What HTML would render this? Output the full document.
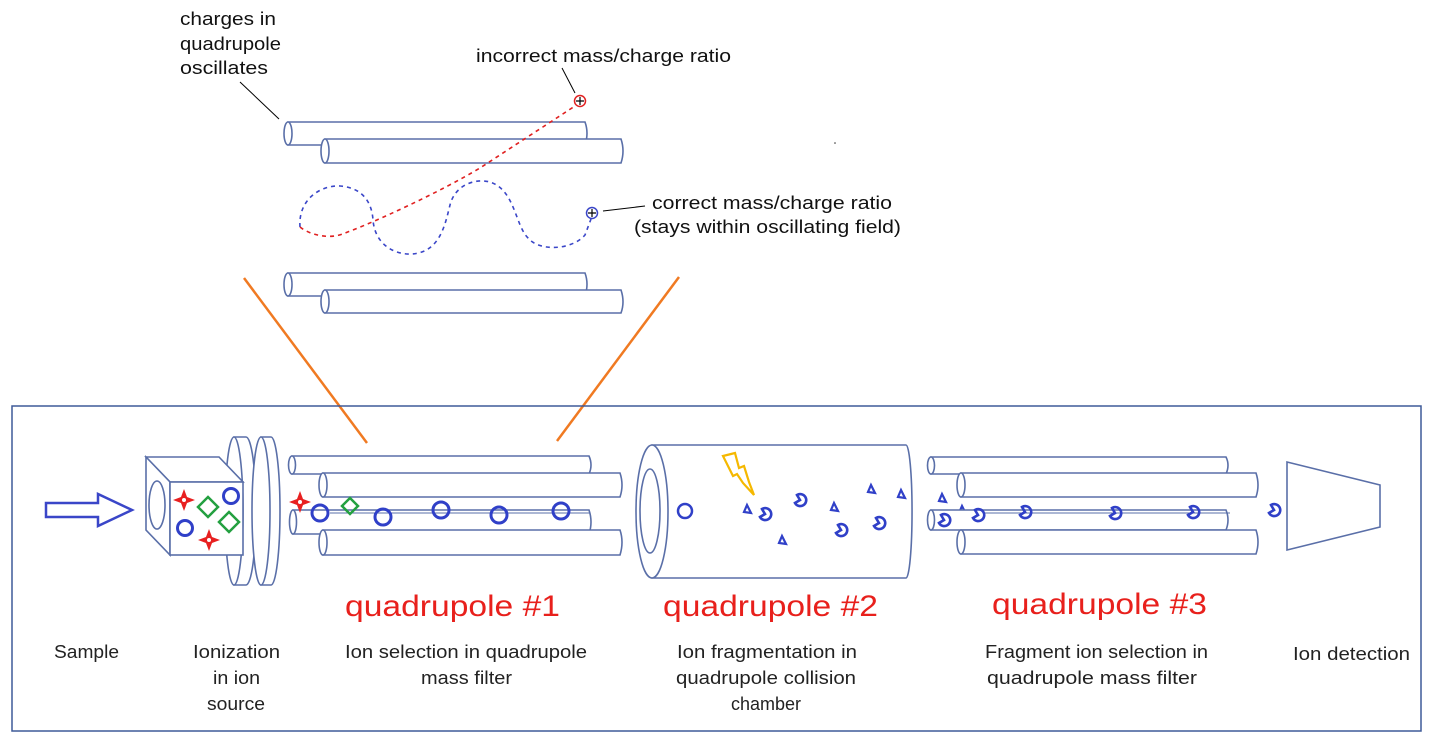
<!DOCTYPE html>
<html><head><meta charset="utf-8"><style>
html,body{margin:0;padding:0;background:#fff;width:1438px;height:748px;overflow:hidden}
svg{display:block}
text{font-family:"Liberation Sans",sans-serif}
.lbl{font-size:18px;fill:#222}
.tlbl{font-size:18.5px;fill:#111}
.red{font-size:30px;fill:#e8201c}
.rod{fill:#fff;stroke:#5a6fa8;stroke-width:1.6}
.ion{fill:none;stroke:#3040c8;stroke-width:3}
</style></head><body>
<svg width="1438" height="748" viewBox="0 0 1438 748" xmlns="http://www.w3.org/2000/svg">
<defs>
<g id="pac"><path d="M-3,-5 A6,6 0 1 1 -5,3 L0,0 Z" fill="none" stroke="#3040c8" stroke-width="2.6"/></g>
<g id="tri"><path d="M0,-4 L4,4 L-3,3 Z" fill="none" stroke="#3040c8" stroke-width="2.2"/></g>
</defs>

<text class="tlbl" x="180" y="25" textLength="96" lengthAdjust="spacingAndGlyphs">charges in</text>
<text class="tlbl" x="180" y="50" textLength="101" lengthAdjust="spacingAndGlyphs">quadrupole</text>
<text class="tlbl" x="180" y="74" textLength="88" lengthAdjust="spacingAndGlyphs">oscillates</text>
<line x1="240" y1="82" x2="279" y2="119" stroke="#000" stroke-width="1"/>
<text class="tlbl" x="476" y="62" textLength="255" lengthAdjust="spacingAndGlyphs">incorrect mass/charge ratio</text>
<line x1="562" y1="68" x2="575" y2="93" stroke="#000" stroke-width="1"/>
<text class="tlbl" x="652" y="209" textLength="240" lengthAdjust="spacingAndGlyphs">correct mass/charge ratio</text>
<text class="tlbl" x="634" y="233" textLength="267" lengthAdjust="spacingAndGlyphs">(stays within oscillating field)</text>
<line x1="603" y1="211" x2="645" y2="206" stroke="#000" stroke-width="1"/>

<g>
<path class="rod" d="M288,122 H585 Q589,133 585,145 H288 Z"/><ellipse class="rod" cx="288" cy="133.5" rx="4" ry="11.5"/>
<path class="rod" d="M325,139 H621 Q625,151 621,163 H325 Z"/><ellipse class="rod" cx="325" cy="151" rx="4" ry="12"/>
<path class="rod" d="M288,273 H585 Q589,284 585,296 H288 Z"/><ellipse class="rod" cx="288" cy="284.5" rx="4" ry="11.5"/>
<path class="rod" d="M325,290 H621 Q625,302 621,313 H325 Z"/><ellipse class="rod" cx="325" cy="301.5" rx="4" ry="11.5"/>
</g>
<path d="M300,227 C298,200 320,185 340,186 C365,188 372,205 373,220 C375,245 395,255 412,254 C440,252 445,225 450,205 C455,185 475,178 490,182 C515,190 515,225 528,238 C540,252 572,250 585,235 L591,219" fill="none" stroke="#3a46c8" stroke-width="1.6" stroke-dasharray="4,4"/>
<path d="M300,227 C310,235 330,240 345,233 C375,222 440,192 480,168 L575,106" fill="none" stroke="#e02020" stroke-width="1.6" stroke-dasharray="4,4"/>
<circle cx="580" cy="101" r="5.5" fill="#fff" stroke="#e02020" stroke-width="1.5"/>
<path d="M576,101 H584 M580,97 V105" stroke="#000" stroke-width="1.2"/>
<circle cx="592" cy="213" r="5.5" fill="#fff" stroke="#3a46c8" stroke-width="1.5"/>
<path d="M588,213 H596 M592,209 V217" stroke="#000" stroke-width="1.2"/>
<circle cx="835" cy="143" r="0.8" fill="#333"/>

<line x1="244" y1="278" x2="367" y2="443" stroke="#f07a22" stroke-width="2.5"/>
<line x1="679" y1="277" x2="557" y2="441" stroke="#f07a22" stroke-width="2.5"/>

<rect x="12" y="406" width="1409" height="325" fill="none" stroke="#3e5a98" stroke-width="1.5"/>

<path d="M46,503 H98 V494 L132,510 L98,526 V517 H46 Z" fill="#fff" stroke="#3a46c8" stroke-width="2.5"/>

<path class="rod" d="M234,437 H246 A10,74 0 0 1 246,585 H234 Z"/>
<ellipse class="rod" cx="234" cy="511" rx="9" ry="74"/>
<path class="rod" d="M261,437 H271 A9,74 0 0 1 271,585 H261 Z"/>
<ellipse class="rod" cx="261" cy="511" rx="9" ry="74"/>

<path class="rod" d="M146,457 H219 L243,482 H170 Z"/>
<path class="rod" d="M146,457 L170,482 V555 L146,530 Z"/>
<ellipse class="rod" cx="157" cy="505" rx="8" ry="24"/>
<rect class="rod" x="170" y="482" width="73" height="73"/>

<path class="rod" d="M292,456 H589 Q593,465 589,474 H292 Z"/><ellipse class="rod" cx="292" cy="465" rx="3.5" ry="9"/>
<path class="rod" d="M293,510 H589 Q593,522 589,534 H293 Z"/><ellipse class="rod" cx="293" cy="522" rx="3.5" ry="12"/>
<path class="rod" d="M323,473 H620 Q624,485 620,497 H323 Z"/><ellipse class="rod" cx="323" cy="485" rx="4" ry="12"/>
<path class="rod" d="M323,530 H620 Q624,542 620,555 H323 Z"/><ellipse class="rod" cx="323" cy="542.5" rx="4" ry="12.5"/>
<line x1="330" y1="513" x2="590" y2="513" stroke="#5a6fa8" stroke-width="1"/>

<g class="ion">
<circle cx="231" cy="496" r="7.5"/><circle cx="185" cy="528" r="7.5"/>
<circle cx="320" cy="513" r="8"/><circle cx="383" cy="517" r="8"/><circle cx="441" cy="510" r="8"/><circle cx="499" cy="515" r="8"/><circle cx="561" cy="511" r="8"/>
</g>
<g fill="none" stroke="#23a040" stroke-width="2.5">
<path d="M208,497 L218,507 L208,517 L198,507 Z"/>
<path d="M229,512 L239,522 L229,532 L219,522 Z"/>
<path d="M350,498 L358,506 L350,514 L342,506 Z"/>
</g>
<g fill="#e82020">
<path d="M184,489 L187,497 L195,500 L187,503 L184,511 L181,503 L173,500 L181,497 Z"/>
<path d="M209,529 L212,537 L220,540 L212,543 L209,551 L206,543 L198,540 L206,537 Z"/>
<path d="M300,491 L303,499 L311,502 L303,505 L300,513 L297,505 L289,502 L297,499 Z"/>
</g>
<g fill="#fff"><circle cx="184" cy="500" r="2"/><circle cx="209" cy="540" r="2"/><circle cx="300" cy="502" r="2"/></g>

<path class="rod" d="M652,445 H906 A6,66 0 0 1 906,578 H652 Z"/>
<ellipse class="rod" cx="652" cy="511.5" rx="16" ry="66.5"/>
<ellipse class="rod" cx="650" cy="511" rx="10" ry="42"/>
<circle cx="685" cy="511" r="7" fill="none" stroke="#3040c8" stroke-width="2.5"/>
<path d="M723,456 L735,453 L739,468 L744,466 L749,482 L754,495 L743,483 L737,474 L733,476 Z" fill="none" stroke="#f5b800" stroke-width="2.2"/>
<use href="#pac" x="765" y="514"/><use href="#pac" x="800" y="500"/><use href="#pac" x="841" y="530"/><use href="#pac" x="879" y="523"/>
<use href="#tri" x="747" y="509"/><use href="#tri" x="782" y="540"/><use href="#tri" x="834" y="507"/><use href="#tri" x="871" y="489"/><use href="#tri" x="901" y="494"/><use href="#tri" x="942" y="498"/><use href="#tri" x="962" y="510"/>

<path class="rod" d="M931,457 H1226 Q1230,465 1226,474 H931 Z"/><ellipse class="rod" cx="931" cy="465.5" rx="3.5" ry="8.5"/>
<path class="rod" d="M931,510 H1226 Q1230,520 1226,530 H931 Z"/><ellipse class="rod" cx="931" cy="520" rx="3.5" ry="10"/>
<path class="rod" d="M961,473 H1256 Q1260,485 1256,497 H961 Z"/><ellipse class="rod" cx="961" cy="485" rx="4" ry="12"/>
<path class="rod" d="M961,530 H1256 Q1260,542 1256,554 H961 Z"/><ellipse class="rod" cx="961" cy="542" rx="4" ry="12"/>
<line x1="985" y1="513" x2="1230" y2="513" stroke="#5a6fa8" stroke-width="1"/>
<use href="#pac" x="944" y="520"/><use href="#pac" x="978" y="515"/><use href="#pac" x="1025" y="512"/><use href="#pac" x="1115" y="513"/><use href="#pac" x="1193" y="512"/><use href="#pac" x="1274" y="510"/>

<path class="rod" d="M1287,462 L1380,485 V527 L1287,550 Z"/>

<text class="red" x="345" y="616" textLength="215" lengthAdjust="spacingAndGlyphs">quadrupole #1</text>
<text class="red" x="663" y="616" textLength="215" lengthAdjust="spacingAndGlyphs">quadrupole #2</text>
<text class="red" x="992" y="614" textLength="215" lengthAdjust="spacingAndGlyphs">quadrupole #3</text>
<g class="lbl">
<text x="54" y="658" textLength="65" lengthAdjust="spacingAndGlyphs">Sample</text>
<text x="193" y="658" textLength="87" lengthAdjust="spacingAndGlyphs">Ionization</text>
<text x="213" y="684" textLength="47" lengthAdjust="spacingAndGlyphs">in ion</text>
<text x="207" y="710" textLength="58" lengthAdjust="spacingAndGlyphs">source</text>
<text x="345" y="658" textLength="242" lengthAdjust="spacingAndGlyphs">Ion selection in quadrupole</text>
<text x="421" y="684" textLength="91" lengthAdjust="spacingAndGlyphs">mass filter</text>
<text x="677" y="658" textLength="180" lengthAdjust="spacingAndGlyphs">Ion fragmentation in</text>
<text x="676" y="684" textLength="180" lengthAdjust="spacingAndGlyphs">quadrupole collision</text>
<text x="731" y="710" textLength="70" lengthAdjust="spacingAndGlyphs">chamber</text>
<text x="985" y="658" textLength="223" lengthAdjust="spacingAndGlyphs">Fragment ion selection in</text>
<text x="987" y="684" textLength="210" lengthAdjust="spacingAndGlyphs">quadrupole mass filter</text>
<text x="1293" y="660" textLength="117" lengthAdjust="spacingAndGlyphs">Ion detection</text>
</g>
</svg>
</body></html>
